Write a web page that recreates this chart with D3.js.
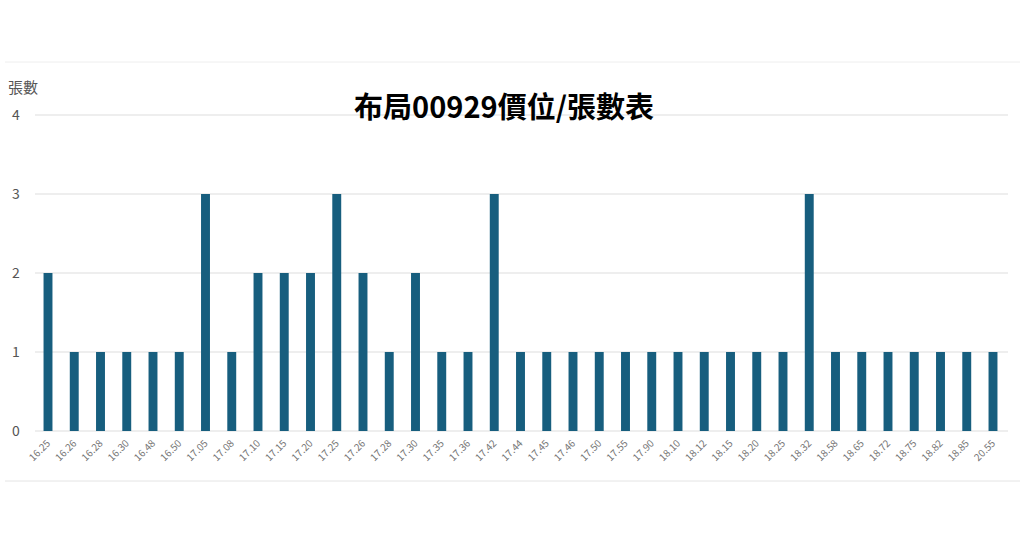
<!DOCTYPE html><html><head><meta charset="utf-8"><script src="https://cdn.jsdelivr.net/npm/d3@7"></script>
<style>body{margin:0;background:#fff}text{font-family:"Noto Sans CJK TC","Liberation Sans",sans-serif}</style></head><body><svg id="c" width="1024" height="543"></svg><script>
const categories=["16.25","16.26","16.28","16.30","16.48","16.50","17.05","17.08","17.10","17.15","17.20","17.25","17.26","17.28","17.30","17.35","17.36","17.42","17.44","17.45","17.46","17.50","17.55","17.90","18.10","18.12","18.15","18.20","18.25","18.32","18.58","18.65","18.72","18.75","18.82","18.85","20.55"];
const values=[2,1,1,1,1,1,3,1,2,2,2,3,2,1,2,1,1,3,1,1,1,1,1,1,1,1,1,1,1,3,1,1,1,1,1,1,1];
const yTicks=[0,1,2,3,4];
const svg=d3.select("#c");
svg.append("line").attr("x1",5).attr("x2",1020).attr("y1",62).attr("y2",62).attr("stroke","#eee");
svg.append("line").attr("x1",5).attr("x2",1020).attr("y1",481).attr("y2",481).attr("stroke","#e4e4e4");
const step=(993-48)/36;
const x=d3.scaleBand().domain(categories).range([48-step/2,993+step/2]).paddingInner(0.66).paddingOuter(0.33);
const y=d3.scaleLinear().domain([0,4]).range([431,115]);
svg.selectAll("line.g").data(yTicks).join("line").attr("x1",35).attr("x2",1008).attr("y1",d=>y(d)).attr("y2",d=>y(d)).attr("stroke","#ddd");
svg.selectAll("text.y").data(yTicks).join("text").attr("x",16).attr("y",d=>y(d)+5).attr("text-anchor","middle").attr("font-size",14).attr("fill","#555").text(d=>d);
svg.append("text").attr("x",8).attr("y",93).attr("font-size",15).attr("fill","#555").text("張數");
svg.selectAll("rect").data(values).join("rect").attr("x",(d,i)=>x(categories[i])).attr("width",x.bandwidth()).attr("y",d=>y(d)).attr("height",d=>y(0)-y(d)).attr("fill","#175e7e");
svg.selectAll("text.x").data(categories).join("text").attr("transform",d=>`translate(${x(d)+x.bandwidth()/2+3},${444}) rotate(-45)`).attr("text-anchor","end").attr("font-size",10).attr("fill","#777").text(d=>d);
svg.append("text").attr("x",504).attr("y",118).attr("text-anchor","middle").attr("font-size",29).attr("font-weight","bold").attr("fill","#000").text("布局00929價位/張數表");
</script></body></html>
